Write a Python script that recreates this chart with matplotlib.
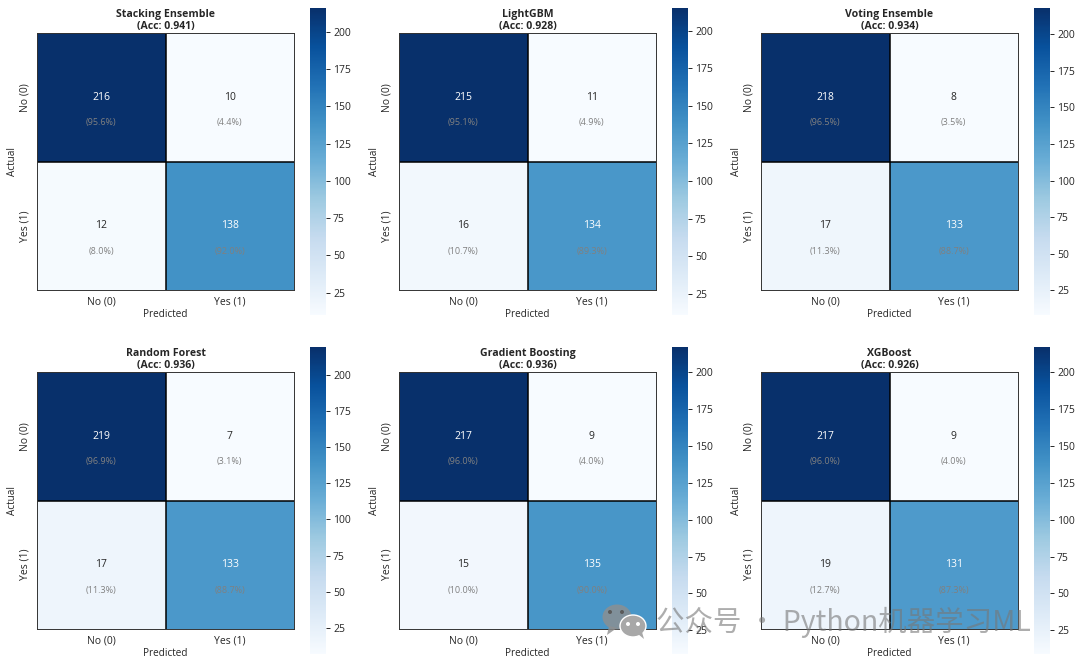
import matplotlib
matplotlib.use('Agg')
import matplotlib.pyplot as plt
import numpy as np
from matplotlib.patches import Ellipse, Polygon

plt.rcParams['font.family'] = ['Open Sans', 'Noto Sans CJK SC', 'DejaVu Sans']
plt.rcParams['axes.unicode_minus'] = False

MODEL_NAMES = ['Stacking Ensemble', 'LightGBM', 'Voting Ensemble',
               'Random Forest', 'Gradient Boosting', 'XGBoost']
ACCURACY = [0.941, 0.928, 0.934, 0.936, 0.936, 0.926]
STACKING_CM = [[216, 10], [12, 138]]
LIGHTGBM_CM = [[215, 11], [16, 134]]
VOTING_CM = [[218, 8], [17, 133]]
FOREST_CM = [[219, 7], [17, 133]]
GRADIENT_CM = [[217, 9], [15, 135]]
XGBOOST_CM = [[217, 9], [19, 131]]
CLASS_LABELS = ['No (0)', 'Yes (1)']
CBAR_TICKS = [25, 50, 75, 100, 125, 150, 175, 200]

MATRICES = [STACKING_CM, LIGHTGBM_CM, VOTING_CM, FOREST_CM, GRADIENT_CM, XGBOOST_CM]

W, H = 1080, 666
AX_LEFT = [37, 399, 761]
AX_TOP = [33, 372]
AX_SIZE = 257


def px_rect(x0, y0, w, h):
    # pixel box with origin top-left -> figure fraction
    return [x0 / W, 1 - (y0 + h) / H, w / W, h / H]


def draw_confusion(fig, col, row, cm, name, acc):
    cm = np.array(cm)
    left, top = AX_LEFT[col], AX_TOP[row]
    ax = fig.add_axes(px_rect(left, top, AX_SIZE, AX_SIZE))
    cax = fig.add_axes(px_rect(left + 273, top - 25, 16, 307))

    mesh = ax.pcolormesh(cm, cmap='Blues', vmin=cm.min(), vmax=cm.max())
    ax.set_xlim(0, 2)
    ax.set_ylim(2, 0)
    ax.set_aspect('equal')
    # thin divider between the cells
    ax.axhline(1, color='black', lw=1.1)
    ax.axvline(1, color='black', lw=1.1)

    pct = cm / cm.sum(axis=1, keepdims=True) * 100
    mid = (cm.max() + cm.min()) / 2
    for i in range(2):
        for j in range(2):
            color = 'white' if cm[i, j] > mid else '#262626'
            ax.text(j + 0.5, i + 0.5, str(cm[i, j]), ha='center', va='center',
                    color=color, fontsize=7.5)
            ax.text(j + 0.5, i + 0.7, f'({pct[i, j]:.1f}%)', ha='center', va='center',
                    color='gray', fontsize=6.5)

    ax.set_xticks([0.5, 1.5], CLASS_LABELS)
    ax.set_yticks([0.5, 1.5], CLASS_LABELS, rotation=90, va='center')
    ax.tick_params(length=0, labelsize=7.5, colors='#262626', pad=5)
    ax.set_xlabel('Predicted', fontsize=7.2, color='#262626', labelpad=1)
    ax.set_ylabel('Actual', fontsize=7.2, color='#262626', labelpad=1)
    ax.set_title(f'{name}\n(Acc: {acc:.3f})', fontsize=7.6, fontweight='bold',
                 color='#262626', pad=3, linespacing=1.1)
    for spine in ax.spines.values():
        spine.set_linewidth(0.7)
        spine.set_color('#333333')

    cbar = fig.colorbar(mesh, cax=cax, ticks=CBAR_TICKS)
    cbar.outline.set_visible(False)
    cbar.ax.tick_params(length=3, width=0.7, labelsize=7.5, colors='#262626', pad=2)


def draw_watermark(fig):
    # account tag in the lower right corner, above everything else
    tag = fig.add_axes([0, 0, 1, 1], zorder=10)
    tag.set_xlim(0, W)
    tag.set_ylim(H, 0)
    tag.axis('off')
    grey = '#8f8f8f'
    tag.add_patch(Ellipse((617, 617), 29, 25, color=grey, alpha=0.8, lw=0))
    tag.add_patch(Polygon([(609, 626), (607, 635), (617, 628)], color=grey, alpha=0.8, lw=0))
    tag.add_patch(Ellipse((633, 626), 26, 22, facecolor='#a8a8a8', edgecolor='white', lw=1))
    tag.add_patch(Polygon([(638, 634), (644, 639), (642, 632)], color='#a8a8a8', lw=0))
    for x, y, c in [(610, 612, '#5a5a5a'), (622, 612, '#5a5a5a'), (628, 624, 'white'), (638, 624, 'white')]:
        tag.add_patch(Ellipse((x, y), 4, 4, color=c, lw=0))
    tag.text(656, 622, '公众号 · Python机器学习ML', fontsize=20.5, color='#777777',
             alpha=0.6, ha='left', va='center',
             family=['Noto Sans CJK SC', 'DejaVu Sans'])


def main():
    fig = plt.figure(figsize=(W / 100, H / 100), dpi=100, facecolor='white')
    for idx, (cm, name, acc) in enumerate(zip(MATRICES, MODEL_NAMES, ACCURACY)):
        draw_confusion(fig, idx % 3, idx // 3, cm, name, acc)
    draw_watermark(fig)
    fig.savefig('out.png', dpi=100, facecolor='white')
    plt.close(fig)


if __name__ == '__main__':
    main()
